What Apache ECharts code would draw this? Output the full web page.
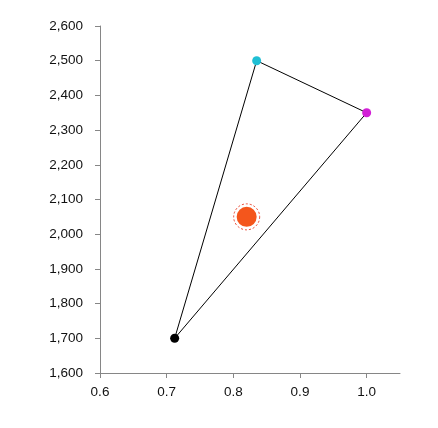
<!DOCTYPE html>
<html><head><meta charset="utf-8">
<script src="https://cdn.jsdelivr.net/npm/echarts@6/dist/echarts.min.js"></script>
<style>html,body{margin:0;padding:0;background:#fff}#c{width:438px;height:428px}</style>
</head><body><div id="c"></div>
<script>
const pointNames = ['cyan', 'magenta', 'black'];
const pointX = [0.835, 1.0, 0.712];
const pointY = [2500, 2350, 1700];
const pointColors = ['#1fbfd4', '#d21fd6', '#000000'];
const centerX = [0.82];
const centerY = [2050];
const xTicks = [0.6, 0.7, 0.8, 0.9, 1.0];
const yTicks = [1600, 1700, 1800, 1900, 2000, 2100, 2200, 2300, 2400, 2500, 2600];

const tri = pointX.map((x, i) => [x, pointY[i]]);
tri.push(tri[0]);

const chart = echarts.init(document.getElementById('c'));
const axisCol = '#868686';
const lab = {color: '#111', fontSize: 13.5, fontFamily: 'Liberation Sans, Arial, sans-serif'};
chart.setOption({
  animation: false,
  grid: {left: 100, right: 38, top: 26, bottom: 55, containLabel: false},
  xAxis: {
    type: 'value', min: 0.6, max: 1.05, interval: 0.1,
    axisLine: {show: true, lineStyle: {color: axisCol}},
    axisTick: {show: true, length: 5, lineStyle: {color: axisCol}, customValues: xTicks},
    axisLabel: Object.assign({margin: 12, formatter: v => v.toFixed(1), customValues: xTicks}, lab),
    splitLine: {show: false}
  },
  yAxis: {
    type: 'value', min: 1600, max: 2600, interval: 100,
    axisLine: {show: true, lineStyle: {color: axisCol}},
    axisTick: {show: true, length: 5, lineStyle: {color: axisCol}, customValues: yTicks},
    axisLabel: Object.assign({margin: 17, formatter: v => v.toLocaleString('en-US'), customValues: yTicks}, lab),
    splitLine: {show: false}
  },
  series: [
    {type: 'line', data: tri, symbol: 'none', lineStyle: {color: '#000', width: 1}, z: 1},
    {type: 'scatter', data: pointX.map((x, i) => ({value: [x, pointY[i]], itemStyle: {color: pointColors[i], opacity: 1}})), symbolSize: 9, z: 3},
    {type: 'scatter', data: centerX.map((x, i) => [x, centerY[i]]), symbolSize: 20, itemStyle: {color: '#f4561c', opacity: 1}, z: 4},
    {type: 'scatter', data: centerX.map((x, i) => [x, centerY[i]]), symbolSize: 26, itemStyle: {color: 'transparent', opacity: 1, borderColor: '#e8402a', borderWidth: 1, borderType: [2, 2]}, z: 4}
  ]
});
</script></body></html>
